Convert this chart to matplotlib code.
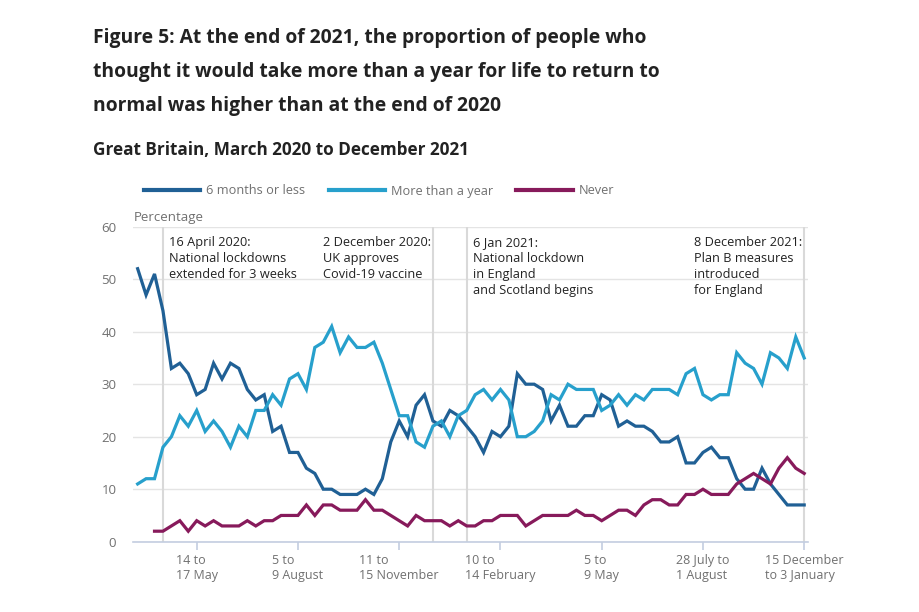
import matplotlib
matplotlib.use('Agg')
import matplotlib.pyplot as plt
import numpy as np

plt.rcParams['font.family'] = ['Open Sans', 'DejaVu Sans']

# ---------------- data ----------------
six_months_or_less = [52, 47, 51, 44, 33, 34, 32, 28, 29, 34, 31, 34, 33, 29, 27, 28, 21, 22, 17, 17,
                      14, 13, 10, 10, 9, 9, 9, 10, 9, 12, 19, 23, 20, 26, 28, 23, 22, 25, 24, 22,
                      20, 17, 21, 20, 22, 32, 30, 30, 29, 23, 26, 22, 22, 24, 24, 28, 27, 22, 23, 22,
                      22, 21, 19, 19, 20, 15, 15, 17, 18, 16, 16, 12, 10, 10, 14, 11, 9, 7, 7, 7]
more_than_a_year = [11, 12, 12, 18, 20, 24, 22, 25, 21, 23, 21, 18, 22, 20, 25, 25, 28, 26, 31, 32,
                    29, 37, 38, 41, 36, 39, 37, 37, 38, 34, 29, 24, 24, 19, 18, 22, 23, 20, 24, 25,
                    28, 29, 27, 29, 27, 20, 20, 21, 23, 28, 27, 30, 29, 29, 29, 25, 26, 28, 26, 28,
                    27, 29, 29, 29, 28, 32, 33, 28, 27, 28, 28, 36, 34, 33, 30, 36, 35, 33, 39, 35]
never = [None, None, 2, 2, 3, 4, 2, 4, 3, 4, 3, 3, 3, 4, 3, 4, 4, 5, 5, 5,
         7, 5, 7, 7, 6, 6, 6, 8, 6, 6, 5, 4, 3, 5, 4, 4, 4, 3, 4, 3,
         3, 4, 4, 5, 5, 5, 3, 4, 5, 5, 5, 5, 6, 5, 5, 4, 5, 6, 6, 5,
         7, 8, 8, 7, 7, 9, 9, 10, 9, 9, 9, 11, 12, 13, 12, 11, 14, 16, 14, 13]

series_names = ['6 months or less', 'More than a year', 'Never']

tick_waves = [7, 19, 31, 43, 55, 67, 79]
tick_labels = ['14 to\n17 May', '5 to\n9 August', '11 to\n15 November', '10 to\n14 February',
               '5 to\n9 May', '28 July to\n1 August', '15 December\nto 3 January']

event_waves = [3, 35, 39, 79]
event_texts = ['16 April 2020:\nNational lockdowns\nextended for 3 weeks',
               '2 December 2020:\nUK approves\nCovid-19 vaccine',
               '6 Jan 2021:\nNational lockdown\nin England\nand Scotland begins',
               '8 December 2021:\nPlan B measures\nintroduced\nfor England']

title_lines = ['Figure 5: At the end of 2021, the proportion of people who',
               'thought it would take more than a year for life to return to',
               'normal was higher than at the end of 2020']
subtitle = 'Great Britain, March 2020 to December 2021'

# ---------------- style ----------------
colors = ['#206095', '#27A0CC', '#871A5B']
gray = '#707070'
W, H = 920, 612

fig = plt.figure(figsize=(W / 100, H / 100), dpi=100)
fig.patch.set_facecolor('white')

left_px, right_px, top_px, bottom_px = 133, 808, 226.7, 541.7
ax = fig.add_axes([left_px / W, 1 - bottom_px / H, (right_px - left_px) / W, (bottom_px - top_px) / H])

n = len(six_months_or_less)
x = np.arange(n)
series = [six_months_or_less, more_than_a_year,
          [np.nan if v is None else v for v in never]]

ax.set_xlim(-0.55, n - 1 + 0.45)
ax.set_ylim(0, 60)
ax.set_yticks(range(0, 61, 10))
ax.grid(axis='y', color='#e4e4e4', lw=1)
ax.set_axisbelow(True)

for xv in event_waves:
    ax.axvline(xv, color='#d9d9d9', lw=1.5, zorder=1)

for vals, c, name in zip(series, colors, series_names):
    ax.plot(x, np.array(vals, dtype=float), color=c, lw=2.3, label=name, zorder=3,
            solid_joinstyle='miter')

for s in ['left', 'top', 'right']:
    ax.spines[s].set_visible(False)
ax.spines['bottom'].set_color('#c3cde0')
ax.spines['bottom'].set_linewidth(1.2)

ax.set_xticks(tick_waves)
ax.set_xticklabels(tick_labels, ha='center', multialignment='left')
ax.tick_params(axis='x', colors='#c3cde0', length=6, width=1.2, pad=3, labelcolor=gray, labelsize=9)
ax.tick_params(axis='y', length=0, pad=12, labelcolor=gray, labelsize=9.5)

# annotations
offsets = [(0.75, 'left'), (-0.2, 'right'), (0.75, 'left'), (-0.25, 'right')]
for xv, txt, (dx, ha) in zip(event_waves, event_texts, offsets):
    ax.text(xv + dx, 58.2, txt, ha=ha, va='top', multialignment='left',
            fontsize=9.2, color='#222222', linespacing=1.3, zorder=4)

# legend
leg = fig.legend(loc='center left', bbox_to_anchor=(144 / W, 1 - 191 / H), ncol=3, frameon=False,
                 fontsize=9.2, handlelength=4.4, handletextpad=0.45, columnspacing=1.85,
                 borderpad=0, borderaxespad=0)
for t in leg.get_texts():
    t.set_color(gray)
for h in leg.get_lines():
    h.set_linewidth(3)

fig.text(134 / W, 1 - 217 / H, 'Percentage', fontsize=9.5, color=gray, va='center', ha='left')

# titles
for i, line in enumerate(title_lines):
    fig.text(93 / W, 1 - (38 + 34 * i) / H, line, fontsize=13.85, fontweight='bold',
             color='#222222', va='center', ha='left')
fig.text(93 / W, 1 - 150 / H, subtitle, fontsize=12.3, fontweight='bold', color='#222222',
         va='center', ha='left')

fig.savefig('out.png', dpi=100, facecolor='white')
